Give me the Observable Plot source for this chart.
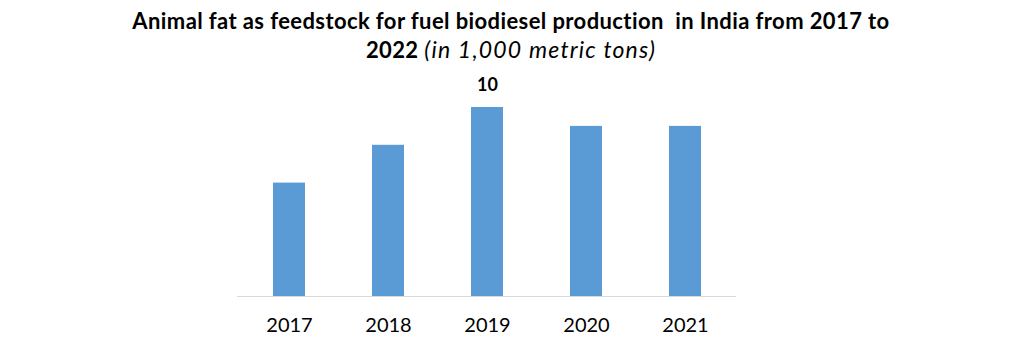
<!DOCTYPE html>
<html><head><meta charset="utf-8">
<script src="https://cdn.jsdelivr.net/npm/d3@7"></script>
<script src="https://cdn.jsdelivr.net/npm/@observablehq/plot@0.6"></script>
<style>
body{margin:0;background:#fff;font-family:Lato,"Open Sans",sans-serif;}
#title{width:1022px;height:70px;text-align:center;font-weight:bold;font-size:22px;letter-spacing:0.4px;line-height:28px;padding-top:7px;box-sizing:border-box;color:#000;}
#title i{font-weight:normal;font-size:23px;letter-spacing:1.2px;}
</style></head><body>
<div id="title">Animal fat as feedstock for fuel biodiesel production&nbsp; in India from 2017 to<br>2022 <i>(in 1,000 metric tons)</i></div>
<div id="chart"></div>
<script>
const years = ["2017","2018","2019","2020","2021"];
const values = [6, 8, 10, 9, 9];
const labeledYears = ["2019"];
const data = years.map((y,i)=>({year:y, value:values[i]}));
const chart = Plot.plot({
  width:1022, height:274,
  marginLeft:237, marginRight:286, marginTop:37, marginBottom:48,
  style:{fontFamily:"Lato, 'Open Sans', sans-serif", background:"#fff"},
  x:{domain:years, paddingInner:0.68, paddingOuter:0.34, label:null},
  y:{domain:[0,10], axis:null},
  marks:[
    Plot.barY(data,{x:"year", y:"value", fill:"#5b9bd5"}),
    Plot.ruleY([0],{stroke:"#d9d9d9", strokeWidth:1}),
    Plot.text(data.filter(d=>labeledYears.includes(d.year)),{x:"year", y:"value", text:d=>String(d.value), dy:-22, fontSize:18, fontWeight:"bold", fill:"#000"}),
    Plot.axisX({tickSize:0, tickPadding:21, fontSize:20, fill:"#000", label:null})
  ]
});
document.getElementById("chart").appendChild(chart);
</script>
</body></html>
